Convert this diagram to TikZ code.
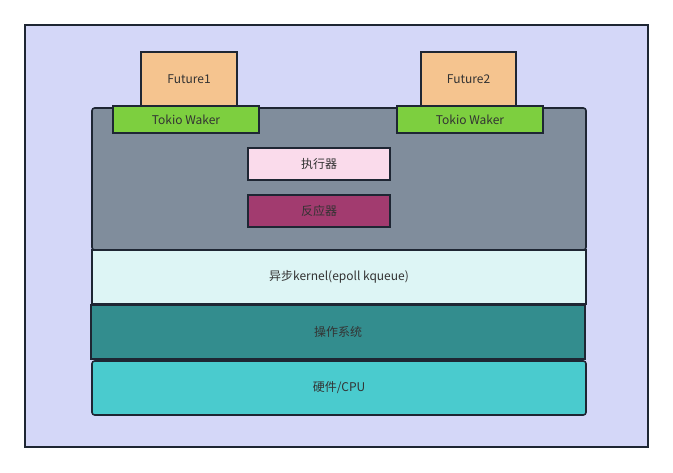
\documentclass[tikz,border=0pt]{standalone}
\usepackage{fontspec}
\setmainfont{Noto Sans CJK SC}
\definecolor{bg}{HTML}{D4D7F8}
\definecolor{panel}{HTML}{808D9C}
\definecolor{fut}{HTML}{F5C48F}
\definecolor{wak}{HTML}{7DCF3F}
\definecolor{exe}{HTML}{FADBEB}
\definecolor{rea}{HTML}{A23B6F}
\definecolor{ker}{HTML}{DDF5F5}
\definecolor{os}{HTML}{338D8E}
\definecolor{hw}{HTML}{4ACBCE}
\definecolor{ln}{HTML}{1E2633}
\definecolor{tx}{HTML}{333333}
\begin{document}
\begin{tikzpicture}[x=0.75pt,y=-0.75pt,
  box/.style={draw=ln,line width=1.2pt,font=\fontsize{9}{11}\selectfont,text=tx}]
\useasboundingbox (0,0) rectangle (673,473);
\fill[white] (0,0) rectangle (673,473);
\draw[box,fill=bg] (25,25) rectangle (648,447);
\draw[box,fill=panel,rounded corners=2pt] (92,108) rectangle (586,250);
\draw[box,fill=fut] (141,52) rectangle node (f1) {Future1} (237,106);
\draw[box,fill=fut] (421,52) rectangle node (f2) {Future2} (516,106);
\draw[box,fill=wak] (113,106) rectangle node (w1) {Tokio Waker} (259,133);
\draw[box,fill=wak] (397,106) rectangle node (w2) {Tokio Waker} (543,133);
\draw[box,fill=exe] (248,148) rectangle node (ex) {执行器} (390,180);
\draw[box,fill=rea] (248,195) rectangle node (re) {反应器} (390,227);
\draw[box,fill=ker] (92,250) rectangle node (k) {异步kernel(epoll kqueue)} (586,304);
\draw[box,fill=os] (91,305) rectangle node (o) {操作系统} (585,359);
\draw[box,fill=hw,rounded corners=2pt] (92,361) rectangle node (h) {硬件/CPU} (586,415);
\end{tikzpicture}
\end{document}
